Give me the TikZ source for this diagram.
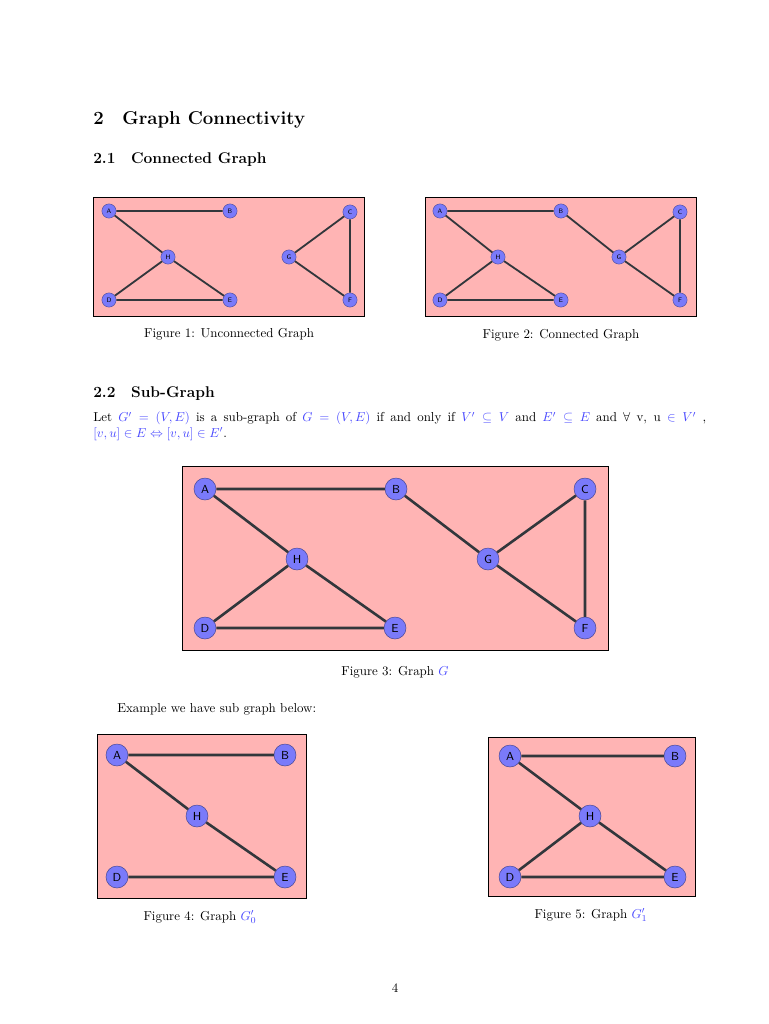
\documentclass[tikz,border=0pt]{standalone}
\usepackage{amsmath,amssymb}
\definecolor{pinkbg}{RGB}{255,180,180}
\definecolor{nodeblue}{RGB}{122,122,250}
\definecolor{edgegray}{RGB}{50,55,60}
\definecolor{mblue}{RGB}{70,70,255}
\newcommand{\mb}[1]{\textcolor{mblue}{$#1$}}
\begin{document}
\begin{tikzpicture}[x=0.7734pt,y=-0.7734pt,
  panel/.style={draw=black,line width=0.5pt,fill=pinkbg},
  vs/.style={circle,fill=nodeblue,draw=nodeblue!60!black,line width=0.3pt,inner sep=0pt,minimum size=11pt,font=\sffamily\tiny},
  vb/.style={circle,fill=nodeblue,draw=nodeblue!60!black,line width=0.4pt,inner sep=0pt,minimum size=17pt,font=\sffamily\small},
  es/.style={draw=edgegray,line width=1.4pt},
  eb/.style={draw=edgegray,line width=2pt},
  txt/.style={anchor=base west,inner sep=0pt}]
\useasboundingbox (0,0) rectangle (768,1024);
% headings
\node[txt,font=\Large\bfseries] (h1) at (93,124) {2\hspace{1em}Graph Connectivity};
\node[txt,font=\large\bfseries] (h2) at (93,163) {2.1\hspace{1em}Connected Graph};
\node[txt,font=\large\bfseries] (h3) at (93,397) {2.2\hspace{1em}Sub-Graph};
% Figure 1
\draw[panel] (93,197) rectangle (364,316);
\node[vs] (A1) at (109,211) {A}; \node[vs] (B1) at (230,211) {B};
\node[vs] (H1) at (168,257) {H}; \node[vs] (D1) at (109,300) {D};
\node[vs] (E1) at (230,300) {E}; \node[vs] (C1) at (350,212) {C};
\node[vs] (G1) at (289,257) {G}; \node[vs] (F1) at (350,300) {F};
\draw[es] (A1)--(B1) (A1)--(H1) (H1)--(D1) (H1)--(E1) (D1)--(E1) (G1)--(C1) (G1)--(F1) (C1)--(F1);
\node (cap1) at (229,334) {Figure 1: Unconnected Graph};
% Figure 2
\draw[panel] (425,197) rectangle (696,316);
\node[vs] (A2) at (440,211) {A}; \node[vs] (B2) at (561,211) {B};
\node[vs] (C2) at (680,212) {C}; \node[vs] (H2) at (498,257) {H};
\node[vs] (G2) at (619,257) {G}; \node[vs] (D2) at (440,300) {D};
\node[vs] (E2) at (561,300) {E}; \node[vs] (F2) at (680,300) {F};
\draw[es] (A2)--(B2) (A2)--(H2) (H2)--(D2) (H2)--(E2) (D2)--(E2) (B2)--(G2) (G2)--(C2) (G2)--(F2) (C2)--(F2);
\node (cap2) at (561,335) {Figure 2: Connected Graph};
% paragraph
\node[anchor=north west,inner sep=0pt,text width=474pt,align=justify] (par) at (93,412)
 {Let \mb{G' = (V,E)} is a sub-graph of \mb{G = (V,E)} if and only if \mb{V' \subseteq V} and \mb{E' \subseteq E} and $\forall$ v, u \mb{\in V'} , \mb{[v,u] \in E \Leftrightarrow [v,u] \in E'}.};
% Figure 3
\draw[panel] (182,466) rectangle (608,650);
\node[vb] (A3) at (205,489) {A}; \node[vb] (B3) at (396,489) {B};
\node[vb] (C3) at (585,489) {C}; \node[vb] (H3) at (297,559) {H};
\node[vb] (G3) at (488,559) {G}; \node[vb] (D3) at (205,628) {D};
\node[vb] (E3) at (395,628) {E}; \node[vb] (F3) at (585,628) {F};
\draw[eb] (A3)--(B3) (A3)--(H3) (H3)--(D3) (H3)--(E3) (D3)--(E3) (B3)--(G3) (G3)--(C3) (G3)--(F3) (C3)--(F3);
\node (cap3) at (395,672) {Figure 3: Graph \mb{G}};
\node[txt] (ex) at (117,712) {Example we have sub graph below:};
% Figure 4
\draw[panel] (97,734) rectangle (306,898);
\node[vb] (A4) at (117,755) {A}; \node[vb] (B4) at (285,755) {B};
\node[vb] (H4) at (197,816) {H}; \node[vb] (D4) at (117,877) {D};
\node[vb] (E4) at (285,877) {E};
\draw[eb] (A4)--(B4) (A4)--(H4) (H4)--(E4) (D4)--(E4);
\node (cap4) at (200,917) {Figure 4: Graph \mb{G'_0}};
% Figure 5
\draw[panel] (488,737) rectangle (695,896);
\node[vb] (A5) at (510,756) {A}; \node[vb] (B5) at (675,756) {B};
\node[vb] (H5) at (590,816) {H}; \node[vb] (D5) at (510,877) {D};
\node[vb] (E5) at (675,877) {E};
\draw[eb] (A5)--(B5) (A5)--(H5) (H5)--(D5) (H5)--(E5) (D5)--(E5);
\node (cap5) at (591,915) {Figure 5: Graph \mb{G'_1}};
\node (pg) at (395,988) {4};
\end{tikzpicture}
\end{document}
